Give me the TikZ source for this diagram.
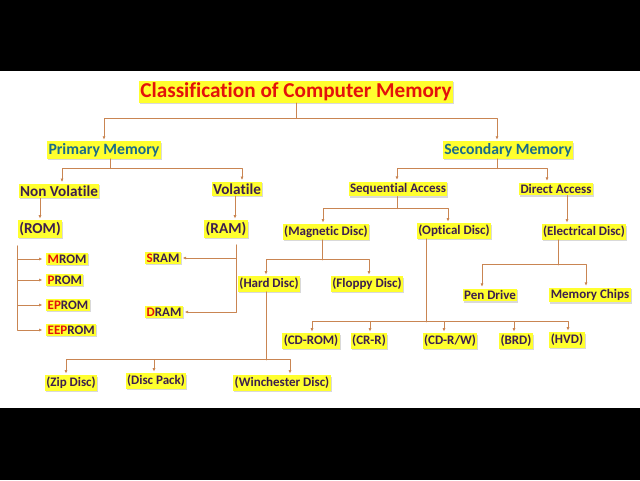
\documentclass[tikz,border=0pt]{standalone}
\usepackage{fontspec}
\setmainfont{Carlito}[Ligatures={NoCommon}]
\usepackage{xcolor}
\usetikzlibrary{arrows.meta,positioning,shadows}
\definecolor{titlered}{HTML}{E3120B}
\definecolor{tealink}{HTML}{1A6B8A}
\definecolor{plumink}{HTML}{3C1E4E}
\definecolor{hilite}{HTML}{FFFF2E}
\definecolor{rust}{HTML}{C98552}
\tikzset{
  memory chart/.style={
    x=1pt, y=-1pt,
    font=\bfseries,
    line cap=round,
    line join=round
  },
  tagbox/.style={
    fill=hilite,
    text=plumink,
    inner xsep=1.5pt,
    inner ysep=1.8pt,
    drop shadow={shadow xshift=1pt, shadow yshift=-1.2pt, opacity=0.25, fill=black!60}
  },
  titlebox/.style={
    tagbox,
    text=titlered,
    font=\bfseries\fontsize{21.2}{24}\selectfont
  },
  headbox/.style={
    tagbox,
    text=tealink,
    font=\bfseries\fontsize{15.7}{18}\selectfont
  },
  bigbox/.style={
    tagbox,
    font=\bfseries\fontsize{15.2}{18}\selectfont
  },
  itembox/.style={
    tagbox,
    font=\bfseries\fontsize{13}{15}\selectfont
  },
  flowline/.style={
    draw=rust,
    line width=0.9pt
  },
  flowarrow/.style={
    flowline,
    -{Latex[length=3.5pt,width=3pt]},
    shorten >=1.5pt
  }
}

\begin{document}
\begin{tikzpicture}[memory chart]
\useasboundingbox (0,0) rectangle (640,480);
\fill[black] (0,0) rectangle (640,71);
\fill[black] (0,408) rectangle (640,480);

% top level
\node[titlebox] (title) at (296,92) {Classification of Computer Memory};
\node[headbox] (prim) at (104,150) {Primary Memory};
\node[headbox] (sec) at (508,150) {Secondary Memory};

% primary side
\node[bigbox] (nonvol) at (59,191) {Non Volatile};
\node[bigbox] (vol) at (237,189) {Volatile};
\node[bigbox] (rom) at (40,229) {(ROM)};
\node[bigbox] (ram) at (226,229) {(RAM)};
\node[itembox, anchor=west] (mrom) at (46,259) {\textcolor{titlered}{M}ROM};
\node[itembox, anchor=west] (prom) at (46,280) {\textcolor{titlered}{P}ROM};
\node[itembox, anchor=west] (eprom) at (46,305) {\textcolor{titlered}{EP}ROM};
\node[itembox, anchor=west] (eeprom) at (46,330) {\textcolor{titlered}{EEP}ROM};
\node[itembox, anchor=west] (sram) at (145,258) {\textcolor{titlered}{S}RAM};
\node[itembox, anchor=west] (dram) at (145,312) {\textcolor{titlered}{D}RAM};

% secondary side
\node[itembox] (seq) at (398,189) {Sequential Access};
\node[itembox] (dir) at (556,189) {Direct Access};
\node[itembox] (mag) at (326,232) {(Magnetic Disc)};
\node[itembox] (opt) at (454,231) {(Optical Disc)};
\node[itembox] (elec) at (584,232) {(Electrical Disc)};
\node[itembox] (hard) at (269,284) {(Hard Disc)};
\node[itembox] (floppy) at (367,284) {(Floppy Disc)};
\node[itembox] (pen) at (490,295) {Pen Drive};
\node[itembox] (chips) at (590,295) {Memory Chips};
\node[itembox] (cdrom) at (311,341) {(CD-ROM)};
\node[itembox] (crr) at (369,341) {(CR-R)};
\node[itembox] (cdrw) at (450,341) {(CD-R/W)};
\node[itembox] (brd) at (516,341) {(BRD)};
\node[itembox] (hvd) at (567,340) {(HVD)};
\node[itembox] (zip) at (71,383) {(Zip Disc)};
\node[itembox] (pack) at (156,381) {(Disc Pack)};
\node[itembox] (winch) at (282,383) {(Winchester Disc)};

% connectors
\draw[flowline] (title.south) -- ++(0,15) coordinate (titlebar);
\draw[flowarrow] (titlebar) -| (prim.north);
\draw[flowarrow] (titlebar) -| ([xshift=-11pt]sec.north);

\draw[flowline] ([xshift=6pt]prim.south) -- ++(0,10) coordinate (primbar);
\draw[flowarrow] (primbar) -| ([xshift=3pt]nonvol.north);
\draw[flowarrow] (primbar) -| ([xshift=5pt]vol.north);

\draw[flowarrow] (nonvol.south -| rom.north) -- (rom.north);
\draw[flowarrow] ([xshift=-2pt]vol.south) -- ([xshift=-2pt]vol.south |- ram.north);

\draw[flowline] ([yshift=-8pt]rom.south west) coordinate (romstem) -- (romstem |- eeprom.west);
\foreach \kid in {mrom,prom,eprom,eeprom}
  \draw[flowarrow] (romstem |- \kid.west) -- ([xshift=-2pt]\kid.west);

\draw[flowarrow] ([xshift=10pt,yshift=-7pt]ram.south) coordinate (ramstem) |- (dram.east);
\draw[flowarrow] (ramstem |- sram.east) -- (sram.east);

\draw[flowline] ([xshift=-11pt]sec.south) -- ++(0,10) coordinate (secbar);
\draw[flowarrow] (secbar) -| ([xshift=-1pt]seq.north);
\draw[flowarrow] (secbar) -| ([xshift=-9pt]dir.north);

\draw[flowline] ([xshift=-1pt]seq.south) -- ++(0,12) coordinate (seqbar);
\draw[flowarrow] (seqbar) -| ([xshift=-3pt]mag.north);
\draw[flowarrow] (seqbar) -| ([xshift=-6pt]opt.north);

\draw[flowline] ([xshift=-4pt]mag.south) -- ++(0,20) coordinate (magbar);
\draw[flowarrow] (magbar) -| ([xshift=-3pt]hard.north);
\draw[flowarrow] (magbar) -| ([xshift=2pt]floppy.north);

\draw[flowline] ([xshift=-3pt]hard.south) -- ++(0,68) coordinate (hardbar);
\draw[flowarrow] (hardbar) -| ([xshift=-5pt]zip.north);
\draw[flowarrow] (hardbar) -| ([xshift=-2pt]pack.north);
\draw[flowarrow] (hardbar) -| ([xshift=8pt]winch.north);

\draw[flowline] ([xshift=-28pt]opt.south) -- ++(0,83) coordinate (optbar);
\foreach \kid/\dx in {cdrom/1,crr/1,cdrw/-6,brd/-2,hvd/1}
  \draw[flowarrow] (optbar) -| ([xshift=\dx pt]\kid.north);

\draw[flowarrow] ([xshift=11pt]dir.south) -- ([xshift=11pt]dir.south |- elec.north);
\draw[flowline] ([xshift=-26pt]elec.south) -- ++(0,25) coordinate (elecbar);
\draw[flowarrow] (elecbar) -| ([xshift=-8pt]pen.north);
\draw[flowarrow] (elecbar) -| ([xshift=-4pt]chips.north);
\end{tikzpicture}
\end{document}
